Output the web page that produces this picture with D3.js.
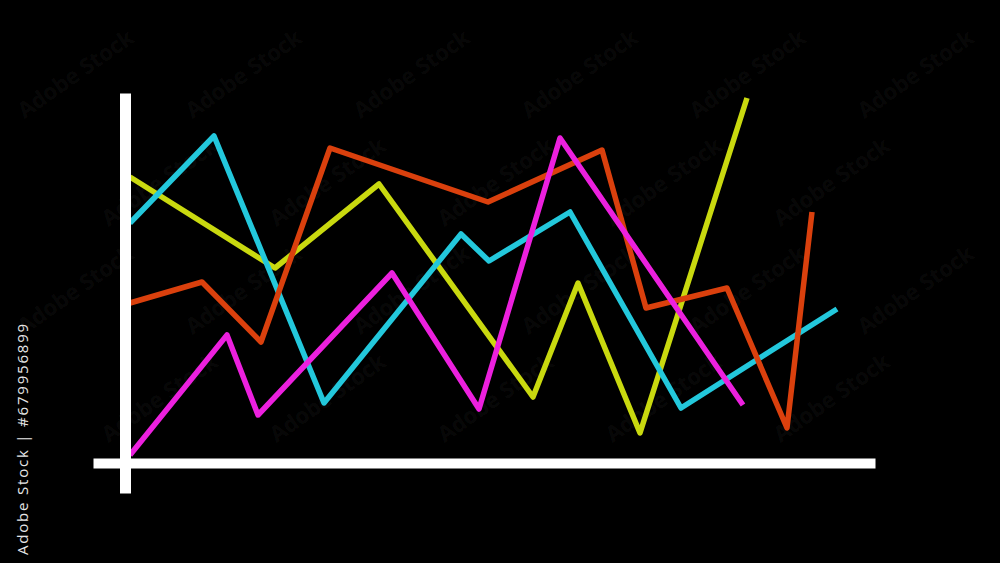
<!DOCTYPE html>
<html>
<head>
<meta charset="utf-8">
<script src="https://cdn.jsdelivr.net/npm/d3@7"></script>
<style>
  html, body { margin: 0; padding: 0; background: #000; }
  svg { display: block; }
</style>
</head>
<body>
<svg id="chart" width="1000" height="563"></svg>
<script>
// ---- data (x: horizontal units, y: value units) ----
const yellowX  = [5, 150, 254, 408, 453, 515, 622];
const yellowY  = [286, 195, 279, 66, 180, 30, 365];
const cyanX    = [5, 89, 199, 336, 364, 445, 556, 712];
const cyanY    = [240, 327, 60, 229, 202, 251, 55, 154];
const orangeX  = [5, 77, 136, 205, 363, 477, 521, 602, 662, 687];
const orangeY  = [160, 181, 121, 315, 261, 313, 155, 175, 35, 251];
const magentaX = [5, 102, 133, 267, 354, 435, 618];
const magentaY = [8, 128, 48, 190, 54, 325, 58];

const seriesNames  = ["yellow", "cyan", "orange", "magenta"];
const seriesColors = ["#c9d90f", "#23c8dc", "#da400d", "#ec20de"];
const watermarkText = "Adobe Stock";
const idText = "Adobe Stock | #679956899";

const series = [
  {name: seriesNames[0], color: seriesColors[0], xs: yellowX, ys: yellowY},
  {name: seriesNames[1], color: seriesColors[1], xs: cyanX, ys: cyanY},
  {name: seriesNames[2], color: seriesColors[2], xs: orangeX, ys: orangeY},
  {name: seriesNames[3], color: seriesColors[3], xs: magentaX, ys: magentaY}
];

const svg = d3.select("#chart");
svg.append("rect").attr("width", 1000).attr("height", 563).attr("fill", "#000");

// faint watermarks (kept fully inside the frame)
const wm = svg.append("g").attr("fill", "#ffffff").attr("fill-opacity", 0.055)
  .attr("font-family", "Open Sans, sans-serif").attr("font-weight", "bold").attr("font-size", 22);
for (let r = 0; r < 5; r++) {
  for (let c = 0; c < 7; c++) {
    const cx = c * 168 + (r % 2 ? 84 : 0) + 80;
    const cy = r * 108 + 80;
    if (cx < 75 || cx > 925 || cy > 500) continue;
    wm.append("text").attr("text-anchor", "middle")
      .attr("transform", `translate(${cx},${cy}) rotate(-35)`).text(watermarkText);
  }
}

// scales
const x = d3.scaleLinear().domain([0, 750]).range([125, 875]);
const y = d3.scaleLinear().domain([0, 370]).range([463, 93]);

const line = d3.line().x(d => x(d[0])).y(d => y(d[1]));

svg.append("g").selectAll("path").data(series).join("path")
  .attr("d", s => line(s.xs.map((v, i) => [v, s.ys[i]])))
  .attr("fill", "none")
  .attr("stroke", s => s.color)
  .attr("stroke-width", 5.5)
  .attr("stroke-linejoin", "round")
  .attr("stroke-linecap", "butt");

// axes (no ticks, thick white domain lines)
const xAxisScale = d3.scaleLinear().domain([0, 1]).range([93, 875]);
const yAxisScale = d3.scaleLinear().domain([0, 1]).range([493, 93]);

const gx = svg.append("g").attr("transform", `translate(0,${y(0)})`)
  .call(d3.axisBottom(xAxisScale).ticks(0).tickSizeOuter(0));
const gy = svg.append("g").attr("transform", `translate(${x(0)},0)`)
  .call(d3.axisLeft(yAxisScale).ticks(0).tickSizeOuter(0));
[gx, gy].forEach(g => {
  g.select(".domain").attr("stroke", "#ffffff").attr("stroke-width", 10);
  g.selectAll("text").remove();
});
gy.select(".domain").attr("stroke-width", 11);

// vertical id text
svg.append("text")
  .attr("transform", "translate(28,322) rotate(-90)")
  .attr("text-anchor", "end")
  .attr("fill", "#e6e6e6")
  .attr("font-family", "Open Sans, sans-serif")
  .attr("font-size", 15)
  .attr("letter-spacing", 1.8)
  .text(idText);
</script>
</body>
</html>
